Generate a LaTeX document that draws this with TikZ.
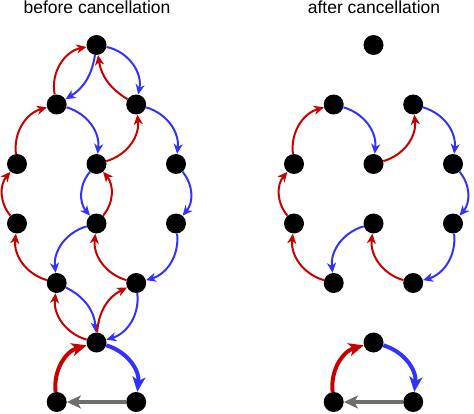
\documentclass[tikz,border=0pt]{standalone}
\usepackage{fontspec}
\setmainfont{Liberation Sans}
\usetikzlibrary{arrows.meta}
\definecolor{ered}{RGB}{200,0,0}
\definecolor{eblue}{RGB}{50,50,250}
\definecolor{egray}{RGB}{110,110,110}
\begin{document}
\begin{tikzpicture}[x=1pt,y=1pt,
  vtx/.style={circle,fill=black,inner sep=0pt,minimum size=20pt},
  redge/.style={draw=ered,line width=2pt,-{Stealth[length=10pt,width=9pt,inset=3pt]}},
  bedge/.style={draw=eblue,line width=2pt,-{Stealth[length=10pt,width=9pt,inset=3pt]}},
  tredge/.style={draw=ered,line width=4pt,-{Stealth[length=15pt,width=13pt,inset=4pt]}},
  tbedge/.style={draw=eblue,line width=4pt,-{Stealth[length=15pt,width=13pt,inset=4pt]}},
  gedge/.style={draw=egray,line width=3.5pt,-{Stealth[length=14pt,width=13pt,inset=3.5pt]}},
  ttl/.style={font=\fontsize{17.5}{20}\selectfont,anchor=base,inner sep=0pt}]
\useasboundingbox (0,0) rectangle (474,413);
% titles
\node[ttl] (t1) at (97,399.7) {before cancellation};
\node[ttl] (t2) at (374,399.7) {after cancellation};
% left graph nodes
\node[vtx] (lT) at (96.5,368) {};
\node[vtx] (lA) at (56.7,308.5) {};
\node[vtx] (lB) at (136.2,308.5) {};
\node[vtx] (lC) at (17,249) {};
\node[vtx] (lD) at (96.5,249) {};
\node[vtx] (lE) at (176,249) {};
\node[vtx] (lF) at (17,189.5) {};
\node[vtx] (lG) at (96.5,189.5) {};
\node[vtx] (lH) at (176,189.5) {};
\node[vtx] (lI) at (56.7,130) {};
\node[vtx] (lJ) at (136.2,130) {};
\node[vtx] (lK) at (96.5,70.5) {};
\node[vtx] (lL) at (56.7,11) {};
\node[vtx] (lM) at (136.2,11) {};
% right graph nodes
\node[vtx] (rT) at (373.5,368) {};
\node[vtx] (rA) at (333.7,308.5) {};
\node[vtx] (rB) at (413.2,308.5) {};
\node[vtx] (rC) at (294,249) {};
\node[vtx] (rD) at (373.5,249) {};
\node[vtx] (rE) at (453,249) {};
\node[vtx] (rF) at (294,189.5) {};
\node[vtx] (rG) at (373.5,189.5) {};
\node[vtx] (rH) at (453,189.5) {};
\node[vtx] (rI) at (333.7,130) {};
\node[vtx] (rJ) at (413.2,130) {};
\node[vtx] (rK) at (373.5,70.5) {};
\node[vtx] (rL) at (333.7,11) {};
\node[vtx] (rM) at (413.2,11) {};
% left graph edges
\draw[redge] (lA) to[bend left=45] (lT);
\draw[bedge] (lT) to[bend left=25] (lA);
\draw[redge] (lB) to[bend left=25] (lT);
\draw[bedge] (lT) to[bend left=45] (lB);
\draw[redge] (lC) to[bend left=40] (lA);
\draw[bedge] (lA) to[bend left=40] (lD);
\draw[redge] (lD) to[bend right=40] (lB);
\draw[bedge] (lB) to[bend left=40] (lE);
\draw[redge] (lF) to[bend left=40] (lC);
\draw[bedge] (lD) to[bend right=40] (lG);
\draw[redge] (lG) to[bend right=40] (lD);
\draw[bedge] (lE) to[bend left=40] (lH);
\draw[bedge] (lG) to[bend right=40] (lI);
\draw[redge] (lI) to[bend left=40] (lF);
\draw[redge] (lJ) to[bend left=40] (lG);
\draw[bedge] (lH) to[bend left=40] (lJ);
\draw[redge] (lK) to[bend left=40] (lI);
\draw[bedge] (lI) to[bend left=30] (lK);
\draw[redge] (lK) to[bend left=30] (lJ);
\draw[bedge] (lJ) to[bend left=40] (lK);
\draw[tredge] (lL) to[bend left=40] (lK);
\draw[tbedge] (lK) to[bend left=40] (lM);
\draw[gedge] (lM) -- (lL);
% right graph edges
\draw[redge] (rC) to[bend left=40] (rA);
\draw[bedge] (rA) to[bend left=40] (rD);
\draw[redge] (rD) to[bend right=40] (rB);
\draw[bedge] (rB) to[bend left=40] (rE);
\draw[redge] (rF) to[bend left=40] (rC);
\draw[bedge] (rE) to[bend left=40] (rH);
\draw[bedge] (rG) to[bend right=40] (rI);
\draw[redge] (rI) to[bend left=40] (rF);
\draw[redge] (rJ) to[bend left=40] (rG);
\draw[bedge] (rH) to[bend left=40] (rJ);
\draw[tredge] (rL) to[bend left=40] (rK);
\draw[tbedge] (rK) to[bend left=40] (rM);
\draw[gedge] (rM) -- (rL);
\end{tikzpicture}
\end{document}
